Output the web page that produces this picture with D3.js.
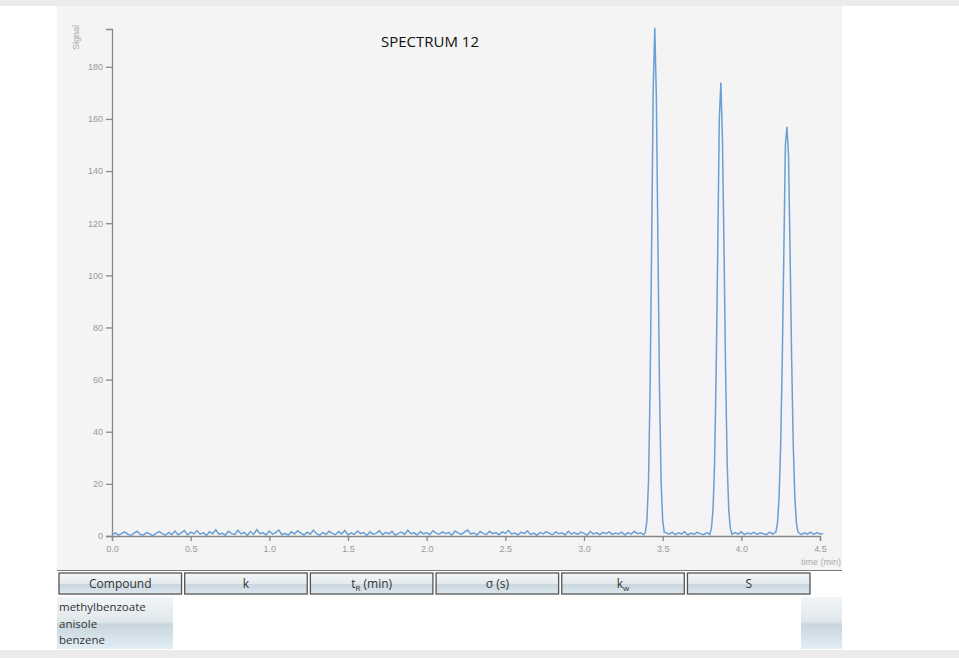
<!DOCTYPE html>
<html>
<head>
<meta charset="utf-8">
<script src="https://cdn.jsdelivr.net/npm/d3@7"></script>
<style>
  body { margin: 0; background: #fff; font-family: "Open Sans", sans-serif; }
  svg { display: block; }
</style>
</head>
<body>
<svg id="chart" width="959" height="658"></svg>
<script>
// baseline noise, one value every 0.02 min from 0.00
const baseline = [
  0.5, 1.2, 0.3, 0.9, 1.6, 0.7, 0.2, 1.1, 1.8, 0.6, 0.4, 1.3, 0.8, 0.1, 1.0, 1.7, 0.9, 0.3, 1.4, 0.6,
  1.9, 0.5, 1.2, 2.1, 0.4, 1.5, 0.8, 2.0, 0.7, 1.3, 0.2, 1.6, 0.9, 2.4, 0.6, 1.1, 0.3, 1.8, 1.0, 0.5,
  2.2, 0.8, 1.4, 0.2, 1.7, 0.6, 2.5, 0.9, 1.2, 0.4, 1.9, 0.7, 1.3, 2.3, 0.5, 1.0, 0.3, 1.6, 0.8, 2.0,
  1.1, 0.4, 1.5, 0.7, 2.2, 0.9, 0.3, 1.4, 0.6, 1.8, 1.0, 0.5, 1.7, 0.8, 2.1, 0.4, 1.2, 0.6, 1.9, 0.9,
  1.3, 0.2, 1.6, 0.7, 1.1, 2.0, 0.5, 1.4, 0.8, 1.8, 0.3, 1.0, 1.5, 0.6, 2.2, 0.9, 1.2, 0.4, 1.7, 0.8,
  1.3, 0.5, 2.0, 1.1, 0.7, 1.6, 0.9, 1.4, 0.3, 1.9, 1.2, 0.6, 1.5, 2.3, 0.8, 1.1, 0.4, 1.7, 1.0, 0.6,
  1.8, 0.9, 1.3, 0.5, 1.6, 1.0, 2.1, 0.7, 1.2, 0.4, 1.5, 0.9, 1.9, 0.6, 1.1, 0.3, 1.4, 0.8, 1.7, 1.0,
  0.5, 1.6, 0.9, 1.2, 0.4, 1.8, 0.7, 1.3, 0.6, 1.5, 1.0, 0.3, 1.7, 0.8, 1.2, 0.5, 1.4, 0.9, 1.6, 0.6,
  1.1, 0.8, 1.5, 0.4, 1.3, 0.7, 1.8, 0.9, 1.2, 0.5, 0.8, 1.4, 0.6, 1.7, 0.9, 0.4, 1.3, 0.7, 1.5, 0.5,
  1.2, 0.8, 1.6, 0.4, 1.1, 0.7, 1.4, 0.9, 0.5, 1.3, 0.6, 1.7, 0.8, 1.2, 0.4, 1.5, 0.9, 0.6, 1.3, 0.7,
  1.6, 0.5, 1.1, 0.8, 1.4, 0.6, 1.2, 0.9, 0.5, 1.5, 0.7, 1.3, 0.4, 1.6, 0.8, 1.1, 0.6, 1.4, 0.9, 0.5,
  1.2, 0.7, 1.5, 0.6, 1.3, 0.8, 1.0
];
const baseStep = 0.02;

// peak samples [time, signal], 0.01 min apart
const peaks = [
  [[3.39, 1.4], [3.40, 6], [3.41, 21], [3.42, 56], [3.43, 112], [3.44, 172], [3.45, 195],
   [3.46, 168], [3.47, 112], [3.48, 56], [3.49, 21], [3.50, 6], [3.51, 1.4]],
  [[3.81, 3], [3.82, 10], [3.83, 28], [3.84, 63], [3.85, 110], [3.86, 160], [3.87, 174],
   [3.88, 152], [3.89, 110], [3.90, 63], [3.91, 28], [3.92, 10], [3.93, 3]],
  [[4.22, 1.6], [4.23, 5], [4.24, 15], [4.25, 35], [4.26, 67], [4.27, 108], [4.28, 150],
   [4.29, 157], [4.30, 146], [4.31, 108], [4.32, 67], [4.33, 35], [4.34, 15], [4.35, 5], [4.36, 1.6]]
];

const title = "SPECTRUM 12";
const yTicks = [0, 20, 40, 60, 80, 100, 120, 140, 160, 180];
const xTicks = [0, 0.5, 1.0, 1.5, 2.0, 2.5, 3.0, 3.5, 4.0, 4.5];
const columns = ["Compound", "k", "t_R (min)", "σ (s)", "k_w", "S"];
const compounds = ["methylbenzoate", "anisole", "benzene"];

// merge baseline + peaks
const windows = peaks.map(p => [p[0][0] - 0.005, p[p.length - 1][0] + 0.005]);
let points = baseline
  .map((v, i) => [+(i * baseStep).toFixed(2), v])
  .filter(([t]) => !windows.some(([a, b]) => t >= a && t <= b));
points = points.concat(peaks.flat()).sort((a, b) => a[0] - b[0]);

const svg = d3.select("#chart");

svg.append("rect").attr("width", 959).attr("height", 6).attr("fill", "#ebebeb");
svg.append("rect").attr("y", 650).attr("width", 959).attr("height", 8).attr("fill", "#ebebeb");
svg.append("rect").attr("x", 57).attr("y", 6).attr("width", 785).attr("height", 564).attr("fill", "#f4f4f4");

const x = d3.scaleLinear().domain([0, 4.5]).range([112, 820]);
const y = d3.scaleLinear().domain([0, 194.5]).range([536, 29]);

const yAxis = svg.append("g")
  .attr("transform", "translate(112,0)")
  .call(d3.axisLeft(y).tickValues(yTicks).tickSize(6).tickSizeOuter(6).tickFormat(d3.format("d")));
const xAxis = svg.append("g")
  .attr("transform", "translate(0,536)")
  .call(d3.axisBottom(x).tickValues(xTicks).tickSize(5).tickSizeOuter(5).tickFormat(d3.format(".1f")));

[yAxis, xAxis].forEach(g => {
  g.selectAll("path, line").attr("stroke", "#888").attr("stroke-width", 1.3);
  g.selectAll("text").attr("fill", "#999").style("font-family", "Arial, sans-serif").style("font-size", "9px");
});
xAxis.selectAll("text").attr("dy", "0.9em");

svg.append("text")
  .attr("transform", "translate(79,50) rotate(-90)")
  .attr("fill", "#aaa").style("font-family", "Arial, sans-serif").style("font-size", "9px")
  .text("Signal");
svg.append("text")
  .attr("x", 841).attr("y", 565).attr("text-anchor", "end")
  .attr("fill", "#aaa").style("font-family", "Arial, sans-serif").style("font-size", "9px")
  .text("time (min)");

svg.append("path")
  .datum(points)
  .attr("fill", "none")
  .attr("stroke", "#6a9fd4")
  .attr("stroke-width", 1.5)
  .attr("d", d3.line().x(d => x(d[0])).y(d => y(d[1])));

svg.append("text")
  .attr("x", 430).attr("y", 47).attr("text-anchor", "middle")
  .style("font-size", "15px").attr("fill", "#111")
  .text(title);

// table header
const defs = svg.append("defs");
const grad = defs.append("linearGradient").attr("id", "btn").attr("x1", 0).attr("x2", 0).attr("y1", 0).attr("y2", 1);
grad.append("stop").attr("offset", "0%").attr("stop-color", "#f3f6f8");
grad.append("stop").attr("offset", "50%").attr("stop-color", "#e3eaee");
grad.append("stop").attr("offset", "55%").attr("stop-color", "#c9d6de");
grad.append("stop").attr("offset", "100%").attr("stop-color", "#dde8ef");
const grad2 = defs.append("linearGradient").attr("id", "rows").attr("x1", 0).attr("x2", 0).attr("y1", 0).attr("y2", 1);
grad2.append("stop").attr("offset", "0%").attr("stop-color", "#f2f5f7");
grad2.append("stop").attr("offset", "48%").attr("stop-color", "#e0e7eb");
grad2.append("stop").attr("offset", "52%").attr("stop-color", "#c8d5dd");
grad2.append("stop").attr("offset", "100%").attr("stop-color", "#e2eef6");

svg.append("line").attr("x1", 57).attr("x2", 842).attr("y1", 570.5).attr("y2", 570.5)
  .attr("stroke", "#777").attr("stroke-width", 1);

const colX = d3.scaleBand().domain(columns).range([59, 810]).paddingInner(0.025);
const head = svg.append("g").selectAll("g").data(columns).join("g");
head.append("rect")
  .attr("x", d => colX(d)).attr("y", 573).attr("width", colX.bandwidth()).attr("height", 21)
  .attr("fill", "url(#btn)").attr("stroke", "#555").attr("stroke-width", 1.3);
head.append("text")
  .attr("x", d => colX(d) + colX.bandwidth() / 2).attr("y", 588).attr("text-anchor", "middle")
  .style("font-size", "12px").attr("fill", "#333")
  .each(function(d) {
    const t = d3.select(this);
    const m = d.match(/^(\w)_(\w)(.*)$/);
    if (m) {
      t.append("tspan").text(m[1]);
      t.append("tspan").attr("dy", 3).style("font-size", "8px").text(m[2]);
      t.append("tspan").attr("dy", -3).text(m[3]);
    } else t.text(d);
  });

svg.append("rect").attr("x", 57).attr("y", 597).attr("width", 116).attr("height", 52).attr("fill", "url(#rows)");
svg.append("rect").attr("x", 801).attr("y", 597).attr("width", 41).attr("height", 52).attr("fill", "url(#rows)");
svg.append("g").selectAll("text").data(compounds).join("text")
  .attr("x", 59).attr("y", (d, i) => 611 + i * 16.5)
  .style("font-size", "11.5px").attr("fill", "#333")
  .text(d => d);
</script>
</body>
</html>
